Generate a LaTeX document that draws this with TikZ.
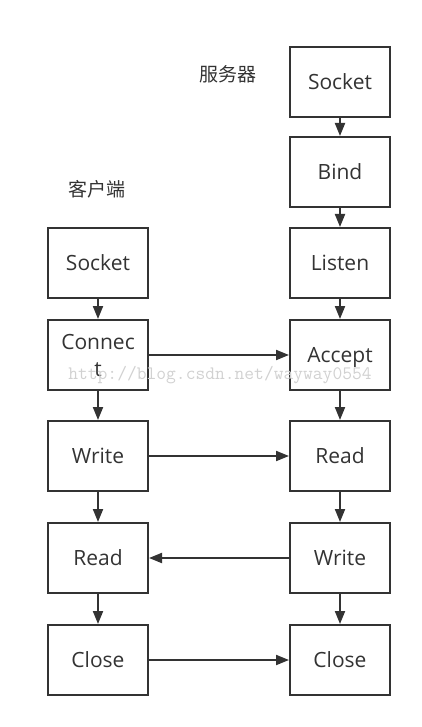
\documentclass[tikz,border=0pt]{standalone}
\usepackage{fontspec}
\setmainfont{Open Sans}
\newfontfamily\cjk{Noto Sans CJK SC}
\usetikzlibrary{arrows.meta}
\definecolor{ink}{HTML}{333333}
\begin{document}
\begin{tikzpicture}[x=1pt,y=-1pt,
  boxbase/.style={draw=ink,line width=2pt,minimum width=100pt,minimum height=70pt,inner sep=0pt,font=\fontsize{21}{27}\selectfont,text=ink,align=center},
  box/.style={boxbase,text height=15pt,text depth=0pt},
  arr/.style={draw=ink,line width=2pt,-{Triangle[length=13pt,width=10pt]}},
  lbl/.style={font=\cjk\fontsize{19}{22}\selectfont,text=ink}]
\useasboundingbox (0,0) rectangle (422,727);
% server column
\node[box] (ssock) at (340,82.5) {Socket};
\node[box] (sbind) at (340,172) {Bind};
\node[box] (slist) at (340,263) {Listen};
\node[box] (sacc) at (340,355) {Accept};
\node[box] (sread) at (340,456) {Read};
\node[box] (swrite) at (340,558) {Write};
\node[box] (sclose) at (340,660) {Close};
% client column
\node[box] (csock) at (98,263) {Socket};
\node[boxbase] (cconn) at (98,355) {Connec\\t};
\node[box] (cwrite) at (98,456) {Write};
\node[box] (cread) at (98,558) {Read};
\node[box] (cclose) at (98,660) {Close};
% labels
\node[lbl] (lserver) at (228,74) {服务器};
\node[lbl] (lclient) at (97,189) {客户端};
% vertical arrows
\draw[arr] (ssock) -- (sbind);
\draw[arr] (sbind) -- (slist);
\draw[arr] (slist) -- (sacc);
\draw[arr] (sacc) -- (sread);
\draw[arr] (sread) -- (swrite);
\draw[arr] (swrite) -- (sclose);
\draw[arr] (csock) -- (cconn);
\draw[arr] (cconn) -- (cwrite);
\draw[arr] (cwrite) -- (cread);
\draw[arr] (cread) -- (cclose);
% horizontal arrows
\draw[arr] (cconn) -- (sacc);
\draw[arr] (cwrite) -- (sread);
\draw[arr] (swrite) -- (cread);
\draw[arr] (cclose) -- (sclose);
% watermark
\node[font=\ttfamily\fontsize{19}{22}\selectfont,text=black!18] (wm) at (220,375) {http://blog.csdn.net/wayway0554};
\end{tikzpicture}
\end{document}
